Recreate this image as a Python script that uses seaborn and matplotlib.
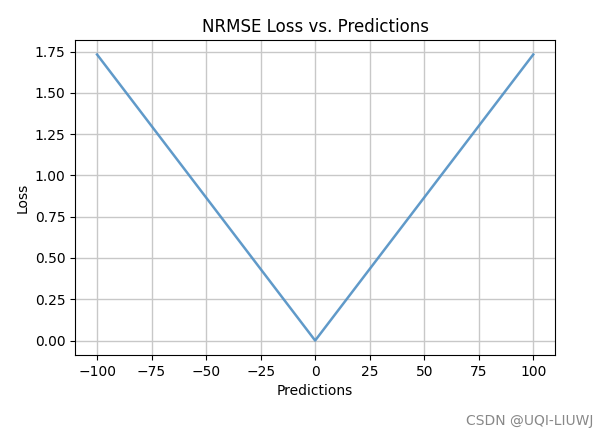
import matplotlib
matplotlib.use("Agg")
import matplotlib.pyplot as plt
import seaborn as sns
import pandas as pd

predictions = [-100, 0, 100]
loss = [1.732, 0.0, 1.732]
df = pd.DataFrame({"Predictions": predictions, "Loss": loss})

fig = plt.figure(figsize=(6.02, 4.37), dpi=100)
ax = fig.add_axes([0.125, 0.188, 0.797, 0.72])
sns.lineplot(data=df, x="Predictions", y="Loss", ax=ax, color="#4f8fc4", linewidth=1.8, alpha=0.9)
ax.set_title("NRMSE Loss vs. Predictions")
ax.set_xticks([-100, -75, -50, -25, 0, 25, 50, 75, 100])
ax.set_yticks([0, 0.25, 0.5, 0.75, 1.0, 1.25, 1.5, 1.75])
ax.grid(True, color="#c8c8c8", linewidth=1)
ax.set_axisbelow(True)
fig.text(0.985, 0.02, "CSDN @UQI-LIUWJ", ha="right", va="bottom", fontsize=10, color="#888888")
fig.savefig("out.png", dpi=100)
